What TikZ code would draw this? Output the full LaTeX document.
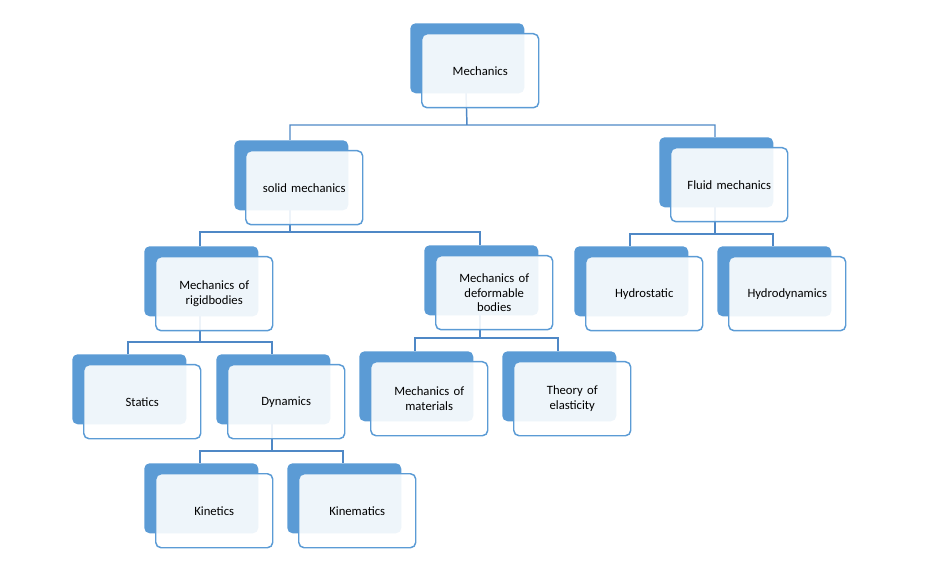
\documentclass[tikz,border=0pt]{standalone}
\usepackage{fontspec}
\setmainfont{Carlito}
\definecolor{boxblue}{HTML}{5B9BD5}
\definecolor{linkblue}{HTML}{4F88C6}
\tikzset{
  back/.style={fill=boxblue,rounded corners=4pt,minimum width=85.5pt,minimum height=52.5pt,anchor=north west,inner sep=0pt},
  front/.style={draw=boxblue,line width=1.1pt,fill=white,fill opacity=0.9,text opacity=1,rounded corners=4pt,
    minimum width=87.75pt,minimum height=55.5pt,anchor=north west,align=center,text width=80pt,inner sep=0pt,
    font=\fontsize{9.5}{11}\selectfont},
  link/.style={draw=linkblue,line width=1.1pt}
}
% back box, front box and link points
\newcommand\orgbox[4]{%
  \node[back] (#1-b) at (#2,#3) {};
  \node[front] (#1) at (#2+11,#3+10) {#4};
}
\newcommand\orgpts[3]{%
  \coordinate (#1-in) at (#2+56,#3);
  \coordinate (#1-out) at (#2+56,#3+70);
}
\begin{document}
\begin{tikzpicture}[x=0.75pt,y=-0.75pt]
\useasboundingbox (0,0) rectangle (926,574);

\orgpts{mech}{410}{23}
\orgpts{solid}{234}{140}
\orgpts{fluid}{659}{137}
\orgpts{rigid}{144}{246}
\orgpts{deform}{424}{245}
\orgpts{hstat}{574}{246}
\orgpts{hdyn}{717}{246}
\orgpts{stat}{72}{354}
\orgpts{dyn}{216}{354}
\orgpts{mater}{359}{351}
\orgpts{elast}{502}{351}
\orgpts{kinet}{144}{463}
\orgpts{kinem}{287}{463}

\coordinate (mech-bus) at (467,125);
\coordinate (solid-bus) at (290,232);
\coordinate (fluid-bus) at (715,234);
\coordinate (rigid-bus) at (200,342);
\coordinate (deform-bus) at (480,338);
\coordinate (dyn-bus) at (272,451);

\path[link] (mech-out) -- (mech-bus) -| (solid-in) (mech-bus) -| (fluid-in);
\path[link] (solid-out) -- (solid-bus) -| (rigid-in) (solid-bus) -| (deform-in);
\path[link] (fluid-out) -- (fluid-bus) -| (hstat-in) (fluid-bus) -| (hdyn-in);
\path[link] (rigid-out) -- (rigid-bus) -| (stat-in) (rigid-bus) -| (dyn-in);
\path[link] (deform-out) -- (deform-bus) -| (mater-in) (deform-bus) -| (elast-in);
\path[link] (dyn-out) -- (dyn-bus) -| (kinet-in) (dyn-bus) -| (kinem-in);

\orgbox{mech}{410}{23}{Mechanics}
\orgbox{solid}{234}{140}{solid mechanics}
\orgbox{fluid}{659}{137}{Fluid mechanics}
\orgbox{rigid}{144}{246}{Mechanics of\\rigidbodies}
\orgbox{deform}{424}{245}{Mechanics of\\deformable\\bodies}
\orgbox{hstat}{574}{246}{Hydrostatic}
\orgbox{hdyn}{717}{246}{Hydrodynamics}
\orgbox{stat}{72}{354}{Statics}
\orgbox{dyn}{216}{354}{Dynamics}
\orgbox{mater}{359}{351}{Mechanics of\\materials}
\orgbox{elast}{502}{351}{Theory of\\elasticity}
\orgbox{kinet}{144}{463}{Kinetics}
\orgbox{kinem}{287}{463}{Kinematics}
\end{tikzpicture}
\end{document}
